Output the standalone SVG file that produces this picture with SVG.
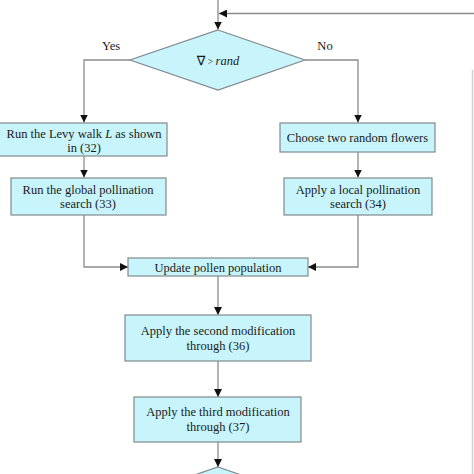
<svg xmlns="http://www.w3.org/2000/svg" width="474" height="474" viewBox="0 0 474 474">
<style>
.box{fill:#c8f5fb;stroke:#808a8c;stroke-width:1.2}
.ln{fill:none;stroke:#8c8c8c;stroke-width:1.3}
.t{font-family:"Liberation Serif","Times New Roman",serif;font-size:12.5px;fill:#1a1a1a;text-anchor:middle}
</style>
<defs>
<marker id="ah" viewBox="0 0 10 10" refX="10" refY="5" markerWidth="8" markerHeight="8" markerUnits="userSpaceOnUse" orient="auto">
<path d="M0,0 L10,5 L0,10 Z" fill="#111"/>
</marker>
</defs>
<rect width="474" height="474" fill="#fff"/>
<line x1="472.5" y1="70" x2="472.5" y2="474" stroke="#cfcfcf" stroke-width="1.5"/>
<g id="connectors">
<path class="ln" d="M218,0 V29.5" marker-end="url(#ah)"/>
<path class="ln" d="M474,13.5 H219" marker-end="url(#ah)"/>
<path class="ln" d="M130,60 H84 V122.5" marker-end="url(#ah)"/>
<path class="ln" d="M305,60 H358 V122.5" marker-end="url(#ah)"/>
<path class="ln" d="M84,156 V177.5" marker-end="url(#ah)"/>
<path class="ln" d="M358,152 V177.5" marker-end="url(#ah)"/>
<path class="ln" d="M84,215 V267 H128" marker-end="url(#ah)"/>
<path class="ln" d="M358,215 V267 H308" marker-end="url(#ah)"/>
<path class="ln" d="M218,276 V315" marker-end="url(#ah)"/>
<path class="ln" d="M218,361 V397" marker-end="url(#ah)"/>
<path class="ln" d="M218,442 V467" marker-end="url(#ah)"/>
</g>
<g id="decision">
<polygon class="box" points="218,30 305,60 218,90 130,60"/>
<text class="t" x="218" y="64.5"><tspan font-family="DejaVu Sans" font-size="13">∇</tspan><tspan font-size="9.5"> &gt; </tspan><tspan font-style="italic">rand</tspan></text>
</g>
<g id="yes-label"><text class="t" x="111" y="50">Yes</text></g>
<g id="no-label"><text class="t" x="325" y="50">No</text></g>
<g id="levy">
<rect class="box" x="-1" y="123" width="168" height="33"/>
<text class="t" x="84" y="137.5">Run the Levy walk <tspan font-style="italic">L</tspan> as shown</text>
<text class="t" x="84" y="151.5">in (32)</text>
</g>
<g id="global">
<rect class="box" x="11" y="178" width="155" height="37"/>
<text class="t" x="88" y="193.5">Run the global pollination</text>
<text class="t" x="88" y="208">search (33)</text>
</g>
<g id="choose">
<rect class="box" x="280" y="123" width="155" height="29"/>
<text class="t" x="357.5" y="142">Choose two random flowers</text>
</g>
<g id="local">
<rect class="box" x="284" y="178" width="148" height="37"/>
<text class="t" x="358" y="193.5">Apply a local pollination</text>
<text class="t" x="358" y="208">search (34)</text>
</g>
<g id="update">
<rect class="box" x="128" y="258" width="180" height="18"/>
<text class="t" x="218" y="271.5">Update pollen population</text>
</g>
<g id="second">
<rect class="box" x="125" y="315" width="186" height="46"/>
<text class="t" x="218" y="334.5">Apply the second modification</text>
<text class="t" x="218" y="349.5">through (36)</text>
</g>
<g id="third">
<rect class="box" x="134" y="397" width="167" height="45"/>
<text class="t" x="218" y="415.5">Apply the third modification</text>
<text class="t" x="218" y="430.5">through (37)</text>
</g>
<g id="decision2">
<polygon class="box" points="218,467 305,497 218,527 130,497"/>
</g>
</svg>
